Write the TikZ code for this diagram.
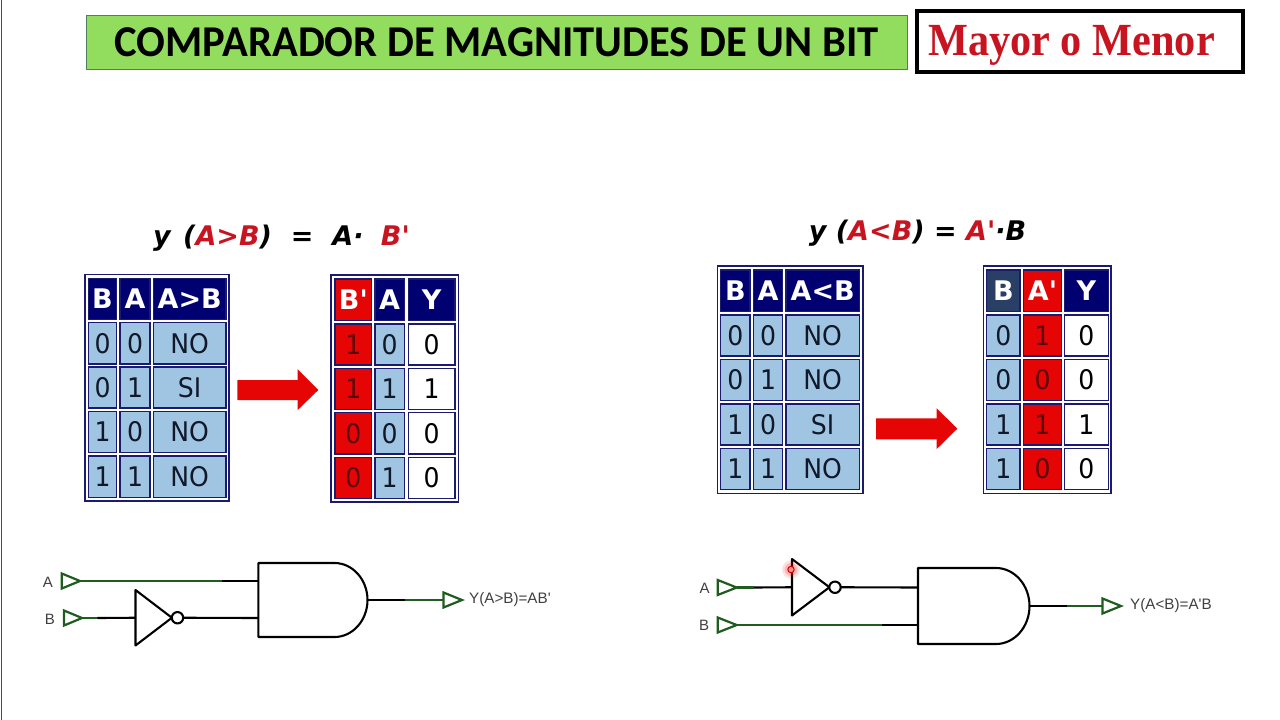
\documentclass[tikz,border=0pt]{standalone}
\usepackage{fontspec}
\setmainfont{DejaVu Sans}
\newfontfamily\dvs{DejaVu Sans}
\newfontfamily\dvsn[FakeStretch=0.93]{DejaVu Sans}
\newfontfamily\carlito[FakeStretch=0.968]{Carlito}
\newfontfamily\libser[FakeStretch=0.92]{Liberation Serif}
\newfontfamily\arimo{Liberation Sans}
\usetikzlibrary{calc}
\definecolor{navyh}{HTML}{000070}
\definecolor{cellb}{HTML}{A0C5E2}
\definecolor{redc}{HTML}{E60505}
\definecolor{darkr}{HTML}{5A0505}
\definecolor{slate}{HTML}{2A3F66}
\definecolor{edge}{HTML}{1A1A70}
\definecolor{greenw}{HTML}{1F5C1F}
\definecolor{titleg}{HTML}{92DC5E}
\definecolor{titleb}{HTML}{4F7F60}
\definecolor{redt}{HTML}{C81420}
\definecolor{txt}{HTML}{10182A}
\newcommand{\prm}{{\dvs\bfseries\itshape'}}
\tikzset{
  cellbox/.style={draw=edge,line width=1.5pt,inner sep=0pt,outer sep=0pt,align=center,font=\dvsn\fontsize{27}{27}\selectfont,text=txt},
  hd/.style={cellbox,fill=navyh,text=white,font=\dvs\fontsize{27}{27}\selectfont\bfseries},
  hr/.style={hd,fill=redc},
  hs/.style={hd,fill=slate},
  cb/.style={cellbox,fill=cellb},
  cr/.style={cellbox,fill=redc,text=darkr},
  cw/.style={cellbox,fill=white,text=black},
  outerbox/.style={draw=edge,line width=1.6pt,fill=white},
  bigarrow/.style={fill=redc,draw=none},
  gatel/.style={draw=black,line width=2.1pt,line join=round,fill=white},
  wire/.style={draw=black,line width=2.1pt},
  gwire/.style={draw=greenw,line width=2.1pt},
  pin/.style={draw=greenw,line width=2.2pt,line join=miter,fill=white},
  sig/.style={font=\arimo\fontsize{15.2}{15.2}\selectfont,text=black!75,inner sep=0pt},
  sigio/.style={sig,font=\arimo\fontsize{15}{15}\selectfont},
  form/.style={font=\dvs\fontsize{27}{27}\selectfont\bfseries\itshape,inner sep=0pt,text=black},
}
\newcommand{\setcols}[6]{\def\ca{#1}\def\cb{#2}\def\cc{#3}\def\cd{#4}\def\ce{#5}\def\cf{#6}}
\newcommand{\onecell}[7]{\node[#6,minimum width={(#3-#2)*1pt},minimum height={(#5-#4)*1pt}] (#1) at ({(#2+#3)/2},{(#4+#5)/2}) {#7};}
\newcommand{\fila}[9]{%
  \onecell{#1a}{\ca}{\cb}{#2}{#3}{#4}{#5}%
  \onecell{#1b}{\cc}{\cd}{#2}{#3}{#6}{#7}%
  \onecell{#1c}{\ce}{\cf}{#2}{#3}{#8}{#9}}
\newcommand{\andgate}[6]{%
  \coordinate (#1m) at (#5,{(#3+#6)/2});
  \draw[gatel] (#2,#3) -- (#4,#3) .. controls ({#4+(#5-#4)*.55},#3) and (#5,{(#3+#6)/2-(#6-#3)*.275}) .. (#1m)
     .. controls (#5,{(#3+#6)/2+(#6-#3)*.275}) and ({#4+(#5-#4)*.55},#6) .. (#4,#6) -- (#2,#6) -- cycle;}
\newcommand{\pinx}[4]{%
  \coordinate (#1in) at (#2,#4); \coordinate (#1) at (#3,#4);
  \draw[pin] (#2,{#4-7.5}) -- (#3,#4) -- (#2,{#4+7.5}) -- cycle;}
\newcommand{\inverter}[6]{%
  \coordinate (#1in) at (#2,{(#4+#5)/2}); \coordinate (#1out) at ({#6+5.9},{(#4+#5)/2});
  \draw[gatel] (#2,#4) -- (#3,{(#4+#5)/2}) -- (#2,#5) -- cycle;
  \draw[gatel] (#6,{(#4+#5)/2}) circle[radius=5.7pt];}
\begin{document}
\begin{tikzpicture}[x=1pt,y=-1pt]
\useasboundingbox (0,0) rectangle (1280,720);
\fill[white] (0,0) rectangle (1280,720);
\draw[black!70,line width=1pt] (1,0) -- (1,720);
\node[draw=titleb,line width=1pt,fill=titleg,minimum width=821pt,minimum height=54pt,inner sep=0pt,font=\carlito\bfseries\fontsize{44}{44}\selectfont,text=black] (title) at (496.5,42.5) {COMPARADOR DE MAGNITUDES DE UN BIT};
\node[draw=black,line width=3.5pt,fill=white,minimum width=326pt,minimum height=61pt,inner sep=0pt,text=redt] (subt) at (1080,41.5) {};
\node[inner sep=0pt,font=\libser\bfseries\fontsize{46}{46}\selectfont,text=redt] (subtx) at (1071.5,45) {Mayor o Menor};
\node[form] (f1) at (281.5,238) {y\hspace{3pt} (\textcolor{redt}{A>B})\hspace{9.5pt} =\hspace{9.5pt} A·\hspace{8pt} \textcolor{redt}{B\prm}};
\node[form] (f2) at (917.5,233.5) {y (\textcolor{redt}{A<B}) = \textcolor{redt}{A\prm}·B};
\fill[outerbox] (85,274.5) rectangle (229,501);
\setcols{88.3}{116.7}{120}{150}{153.3}{226}
\fila{ta0}{278.3}{319.3}{hd}{B}{hd}{A}{hd}{A>B}
\fila{ta1}{322.7}{364}{cb}{0}{cb}{0}{cb}{NO}
\fila{ta2}{367}{408}{cb}{0}{cb}{1}{cb}{SI}
\fila{ta3}{411.7}{452.3}{cb}{1}{cb}{0}{cb}{NO}
\fila{ta4}{456}{497.3}{cb}{1}{cb}{1}{cb}{NO}
\fill[outerbox] (330.7,275) rectangle (458.3,501.7);
\setcols{335}{371.7}{375}{404.3}{408.3}{455}
\fila{tb0}{279}{320.7}{hr}{B\prm}{hd}{A}{hd}{Y}
\fila{tb1}{324}{365}{cr}{1}{cb}{0}{cw}{0}
\fila{tb2}{368.3}{409.3}{cr}{1}{cb}{1}{cw}{1}
\fila{tb3}{412.7}{454}{cr}{0}{cb}{0}{cw}{0}
\fila{tb4}{457.3}{498.3}{cr}{0}{cb}{1}{cw}{0}
\fill[outerbox] (717.3,266) rectangle (862.7,493.3);
\setcols{720.7}{750}{753.3}{782.7}{786}{859.3}
\fila{tc0}{270}{311.7}{hd}{B}{hd}{A}{hd}{A<B}
\fila{tc1}{315}{356}{cb}{0}{cb}{0}{cb}{NO}
\fila{tc2}{359.3}{400.7}{cb}{0}{cb}{1}{cb}{NO}
\fila{tc3}{404}{445}{cb}{1}{cb}{0}{cb}{SI}
\fila{tc4}{448.3}{489.3}{cb}{1}{cb}{1}{cb}{NO}
\fill[outerbox] (983.3,266) rectangle (1111,493.3);
\setcols{986.7}{1020}{1023.3}{1061.7}{1064.3}{1108.3}
\fila{td0}{270}{311.7}{hs}{B}{hr}{A\prm}{hd}{Y}
\fila{td1}{315}{356}{cb}{0}{cr}{1}{cw}{0}
\fila{td2}{359.3}{400.7}{cb}{0}{cr}{0}{cw}{0}
\fila{td3}{404}{445}{cb}{1}{cr}{1}{cw}{1}
\fila{td4}{448.3}{489.3}{cb}{1}{cr}{0}{cw}{0}
\fill[bigarrow] (237.3,380) -- (297.7,380) -- (297.7,369.3) -- (318.3,390) -- (297.7,410) -- (297.7,400) -- (237.3,400) -- cycle;
\fill[bigarrow] (876,418.3) -- (936.7,418.3) -- (936.7,408.3) -- (957.3,428.7) -- (936.7,449) -- (936.7,439.3) -- (876,439.3) -- cycle;
\node[sigio] (la) at (48,582.5) {A};
\node[sigio] (lb) at (50,619) {B};
\coordinate (g1a) at (258.4,581); \coordinate (g1b) at (258.4,618);
\coordinate (g1ag) at (222,581); \coordinate (g1bg) at (97.5,618);
\coordinate (o1g) at (405.4,600);
\draw[gwire] (80,581) -- (g1ag);
\draw[wire] (g1ag) -- (g1a);
\pinx{pa1}{61.8}{80}{581}
\pinx{pb1}{64}{82}{618}
\inverter{inv1}{135.5}{171.9}{590}{645.5}{177.5}
\draw[gwire] (pb1) -- (g1bg);
\draw[wire] (g1bg) -- (inv1in);
\draw[wire] (inv1out) -- (g1b);
\andgate{and1}{258.4}{563}{334.5}{367.5}{637}
\pinx{py1}{443.5}{462}{600}
\draw[wire] (and1m) -- (o1g);
\draw[gwire] (o1g) -- (py1in);
\node[sig,anchor=west] (ly1) at (469,600) {Y(A>B)=AB'};
\node[sigio] (ra) at (704.5,588) {A};
\node[sigio] (rb) at (704,625) {B};
\coordinate (g2a) at (918,587.5); \coordinate (g2b) at (918,625);
\coordinate (g2ag) at (754,587.5); \coordinate (g2bg) at (882,625);
\coordinate (o2g) at (1067,606);
\pinx{pa2}{717.7}{736.7}{587.5}
\pinx{pb2}{717.7}{736.7}{625}
\inverter{inv2}{792}{829.4}{559}{615.5}{835}
\draw[gwire] (pa2) -- (g2ag);
\draw[wire] (g2ag) -- (inv2in);
\draw[wire] (inv2out) -- (g2a);
\draw[gwire] (pb2) -- (g2bg);
\draw[wire] (g2bg) -- (g2b);
\andgate{and2}{918}{568}{996}{1029.5}{644}
\pinx{py2}{1102.5}{1121}{606}
\draw[wire] (and2m) -- (o2g);
\draw[gwire] (o2g) -- (py2in);
\node[sig,anchor=west] (ly2) at (1130,606) {Y(A<B)=A'B};
\fill[red,opacity=.12] (791,569.5) circle[radius=9pt];
\fill[red,opacity=.18] (791,569.5) circle[radius=6.5pt];
\draw[red!80!black,line width=1pt,fill=red!45] (791,569.5) circle[radius=3.2pt];
\end{tikzpicture}
\end{document}
